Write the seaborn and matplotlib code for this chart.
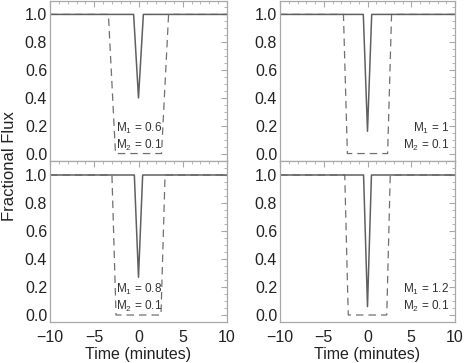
import matplotlib
matplotlib.use("Agg")
import matplotlib.pyplot as plt
import seaborn as sns
import pandas as pd
from matplotlib.ticker import MultipleLocator

sns.set_style("white")
plt.rcParams['font.family'] = ['Liberation Sans', 'DejaVu Sans']
plt.rcParams['mathtext.fontset'] = 'custom'
plt.rcParams['mathtext.rm'] = 'Liberation Sans'
plt.rcParams['mathtext.it'] = 'Liberation Sans'

# Panel parameters
m1_values = ["0.6", "1", "0.8", "1.2"]
m2_values = ["0.1", "0.1", "0.1", "0.1"]

# Solid curve (secondary/lensing dip): time, flux
solid_t = [
    [-10, -0.55, 0.0, 0.55, 10],
    [-10, -0.48, 0.0, 0.48, 10],
    [-10, -0.47, 0.0, 0.47, 10],
    [-10, -0.45, 0.0, 0.45, 10],
]
solid_f = [
    [1.0, 1.0, 0.40, 1.0, 1.0],
    [1.0, 1.0, 0.16, 1.0, 1.0],
    [1.0, 1.0, 0.27, 1.0, 1.0],
    [1.0, 1.0, 0.06, 1.0, 1.0],
]
# Dashed curve (eclipse): time, flux
dash_t = [
    [-10, -3.4, -2.6, 2.6, 3.4, 10],
    [-10, -2.75, -2.3, 2.3, 2.75, 10],
    [-10, -3.0, -2.54, 2.54, 3.0, 10],
    [-10, -2.6, -2.2, 2.2, 2.6, 10],
]
dash_f = [
    [1.0, 1.0, 0.0, 0.0, 1.0, 1.0],
    [1.0, 1.0, 0.0, 0.0, 1.0, 1.0],
    [1.0, 1.0, 0.0, 0.0, 1.0, 1.0],
    [1.0, 1.0, 0.0, 0.0, 1.0, 1.0],
]
x_ticks = [-10, -5, 0, 5, 10]
y_ticks = [0.0, 0.2, 0.4, 0.6, 0.8, 1.0]

W, H = 474, 363
fig = plt.figure(figsize=(W / 100, H / 100), dpi=100)

# axes rectangles in pixels: (left, top, width, height)
rects = [
    (50, 0.5, 177, 160),
    (280, 0.5, 175, 160),
    (50, 161, 177, 161),
    (280, 161, 175, 161),
]
solid_col = "#606060"
dash_col = "#707070"
frame_col = "#a8a8a8"

for i, (l, t, w, h) in enumerate(rects):
    ax = fig.add_axes([l / W, 1 - (t + h) / H, w / W, h / H])
    dd = pd.DataFrame({"t": dash_t[i], "f": dash_f[i]})
    ds = pd.DataFrame({"t": solid_t[i], "f": solid_f[i]})
    sns.lineplot(data=dd, x="t", y="f", ax=ax, color=dash_col, lw=0.9,
                 estimator=None, sort=False)
    ax.lines[-1].set_dashes([6, 4])
    sns.lineplot(data=ds, x="t", y="f", ax=ax, color=solid_col, lw=1.1,
                 estimator=None, sort=False)
    ax.set_xlim(-10, 10)
    ax.set_ylim(-0.05, 1.1)
    ax.set_xticks(x_ticks)
    ax.set_yticks(y_ticks)
    ax.xaxis.set_minor_locator(MultipleLocator(1))
    ax.yaxis.set_minor_locator(MultipleLocator(0.05))
    ax.tick_params(which="both", direction="in", top=True, right=True,
                   color=frame_col, labelsize=11.5, labelcolor="#222222")
    ax.tick_params(which="major", length=4, width=0.8)
    ax.tick_params(axis="y", which="major", pad=2)
    ax.tick_params(axis="x", which="major", pad=6)
    ax.tick_params(which="minor", length=2, width=0.6)
    ax.set_yticklabels([f"{v:.1f}" for v in y_ticks])
    for s in ax.spines.values():
        s.set_color(frame_col)
        s.set_linewidth(0.9)
    ax.set_ylabel("")
    if i < 2:
        ax.set_xticklabels([])
        ax.set_xlabel("")
    else:
        ax.set_xticklabels(["\u221210", "\u22125", "0", "5", "10"])
        ax.set_xlabel("Time (minutes)", fontsize=11.5, color="#222222", labelpad=1)
    txt = f"M$_1$ = {m1_values[i]}\nM$_2$ = {m2_values[i]}"
    if i in (0, 2):
        ax.text(0.03, 0.005, txt, ha="center", va="bottom", fontsize=8.5,
                color="#333333", linespacing=1.2)
    else:
        ax.text(9.3, 0.005, txt, ha="right", va="bottom", fontsize=8.5,
                color="#333333", linespacing=1.2)

fig.text(10 / W, 1 - 166 / H, "Fractional Flux", rotation=90, ha="center",
         va="center", fontsize=12, color="#222222")

fig.savefig("out.png", dpi=100)
